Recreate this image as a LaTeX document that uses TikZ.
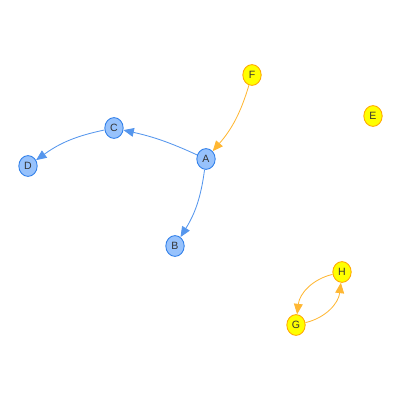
\documentclass[tikz,border=0pt]{standalone}
\usepackage{fontspec}
\setmainfont{Liberation Sans}
\usetikzlibrary{arrows.meta,shapes.geometric}

\definecolor{bluefill}{HTML}{97C2FC}
\definecolor{blueline}{HTML}{2B7CE9}
\definecolor{yellowfill}{HTML}{FFFF00}
\definecolor{orangeline}{HTML}{FFA500}

\begin{document}
\begin{tikzpicture}[
  x=0.025cm, y=-0.025cm,
  vnode/.style={ellipse, draw, line width=0.6pt, minimum width=0.46cm,
                minimum height=0.52cm, inner sep=0pt,
                font=\fontsize{7.5}{8}\selectfont, text=black!80},
  bluenode/.style={vnode, fill=bluefill, draw=blueline},
  yellownode/.style={vnode, fill=yellowfill, draw=orangeline},
  bluearr/.style={-{Triangle[length=2.6mm, width=2.2mm]}, blueline!80, line width=0.6pt},
  orangearr/.style={-{Triangle[length=2.6mm, width=2.2mm]}, orangeline!80, line width=0.6pt}
]
  \useasboundingbox (0,0) rectangle (400,400);

  % Blue group
  \node[bluenode] (A) at (206,159) {A};
  \node[bluenode] (B) at (175,246) {B};
  \node[bluenode] (C) at (114,128) {C};
  \node[bluenode] (D) at (28,166) {D};

  % Yellow group
  \node[yellownode] (E) at (373,116) {E};
  \node[yellownode] (F) at (252,75) {F};
  \node[yellownode] (G) at (296,325) {G};
  \node[yellownode] (H) at (342,272) {H};

  % Edges
  \draw[bluearr] (A) to[bend right=6] (C);
  \draw[bluearr] (C) to[bend right=12] (D);
  \draw[bluearr] (A) to[bend left=12] (B);
  \draw[orangearr] (F) to[bend left=12] (A);
  \draw[orangearr] (G) to[bend right=35] (H);
  \draw[orangearr] (H) to[bend right=35] (G);
\end{tikzpicture}
\end{document}
